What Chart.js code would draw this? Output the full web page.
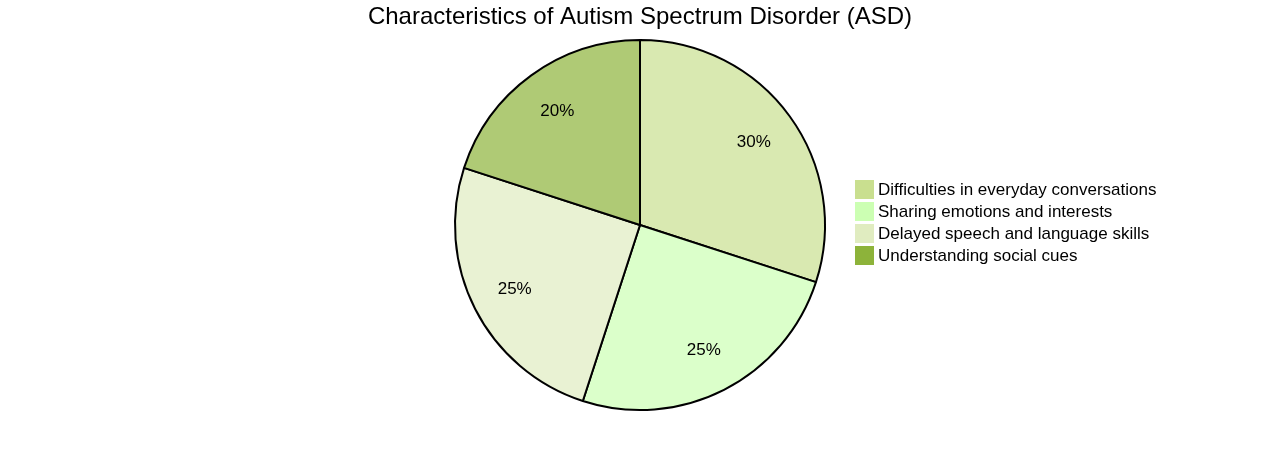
<!DOCTYPE html>
<html>
<head>
<meta charset="utf-8">
<script src="https://cdn.jsdelivr.net/npm/chart.js@4"></script>
<style>
  html, body { margin: 0; padding: 0; background: #fff; }
  #wrap { width: 1280px; height: 450px; position: relative; }
</style>
</head>
<body>
<div id="wrap"><canvas id="pie" width="1280" height="450"></canvas></div>
<script>
const TITLE = 'Characteristics of Autism Spectrum Disorder (ASD)';
const LABELS = [
  'Difficulties in everyday conversations',
  'Sharing emotions and interests',
  'Delayed speech and language skills',
  'Understanding social cues'
];
const VALUES = [30, 25, 25, 20];
const COLORS = ['#c9df8f', '#ccffb3', '#e0ecc0', '#8db33a'];

const FONT = "'Liberation Sans', Arial, sans-serif";

function fade(hex, a) {
  const n = parseInt(hex.slice(1), 16);
  const mix = c => Math.round(c * a + 255 * (1 - a));
  return `rgb(${mix(n >> 16)}, ${mix((n >> 8) & 255)}, ${mix(n & 255)})`;
}

const overlayPlugin = {
  id: 'overlay',
  afterDraw(chart) {
    const { ctx } = chart;
    const meta = chart.getDatasetMeta(0);
    const total = VALUES.reduce((a, b) => a + b, 0);
    ctx.save();
    ctx.fillStyle = '#000';
    ctx.textAlign = 'center';
    ctx.textBaseline = 'middle';

    // title
    ctx.font = `24px ${FONT}`;
    ctx.fillText(TITLE, 640, 17);

    // slice percentages
    ctx.font = `17px ${FONT}`;
    meta.data.forEach((arc, i) => {
      const mid = (arc.startAngle + arc.endAngle) / 2;
      const r = arc.outerRadius * 0.76;
      ctx.fillText(Math.round(VALUES[i] / total * 100) + '%', arc.x + Math.cos(mid) * r, arc.y + Math.sin(mid) * r);
    });

    // legend
    ctx.textAlign = 'left';
    ctx.font = `17px ${FONT}`;
    LABELS.forEach((lab, i) => {
      const y = 180 + i * 22;
      ctx.fillStyle = COLORS[i];
      ctx.fillRect(855, y, 19, 19);
      ctx.fillStyle = '#000';
      ctx.fillText(lab, 878, y + 10);
    });
    ctx.restore();
  }
};

new Chart(document.getElementById('pie'), {
  type: 'pie',
  data: {
    labels: LABELS,
    datasets: [{
      data: VALUES,
      backgroundColor: COLORS.map(c => fade(c, 0.7)),
      borderColor: '#000',
      borderWidth: 2
    }]
  },
  options: {
    responsive: false,
    animation: false,
    layout: { padding: { top: 39, bottom: 39 } },
    plugins: { legend: { display: false }, tooltip: { enabled: false }, title: { display: false } }
  },
  plugins: [overlayPlugin]
});
</script>
</body>
</html>
